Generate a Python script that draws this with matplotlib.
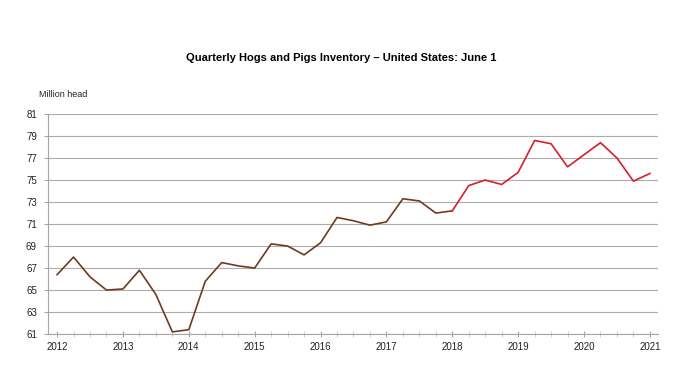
import numpy as np
import matplotlib
matplotlib.use('Agg')
import matplotlib.pyplot as plt
from matplotlib.ticker import MultipleLocator

plt.rcParams['font.family'] = ['Liberation Sans', 'DejaVu Sans']

# Inventario trimestral (milhoes de cabecas), 2012 a 2021
years = [2012, 2013, 2014, 2015, 2016, 2017, 2018, 2019, 2020, 2021]
inventory = [66.4, 68.0, 66.2, 65.0,
             65.1, 66.8, 64.6, 61.2,
             61.4, 65.8, 67.5, 67.2,
             67.0, 69.2, 69.0, 68.2,
             69.3, 71.6, 71.3, 70.9,
             71.2, 73.3, 73.1, 72.0,
             72.2, 74.5, 75.0, 74.6,
             75.7, 78.6, 78.3, 76.2,
             77.3, 78.4, 77.0, 74.9,
             75.6]
split = 24  # a partir daqui a linha fica vermelha

x = np.arange(len(inventory))

fig = plt.figure(figsize=(6.82, 3.84), dpi=100)
ax = fig.add_axes([0.0704, 0.130, 0.8946, 0.573])

ax.plot(x[:split + 1], inventory[:split + 1], color='#6e3b20', lw=1.2)
ax.plot(x[split:], inventory[split:], color='#d4202c', lw=1.2)

ax.set_ylim(61, 81)
ax.set_yticks(range(61, 82, 2))
ax.set_xlim(-0.55, 36.5)
ax.set_xticks(x[::4])
ax.set_xticklabels([str(y) for y in years])
ax.xaxis.set_minor_locator(MultipleLocator(1))

ax.grid(axis='y', color='#adadad', lw=0.8)
ax.set_axisbelow(True)
for s in ['top', 'right']:
    ax.spines[s].set_visible(False)
for s in ['left', 'bottom']:
    ax.spines[s].set_color('#a6a6a6')
    ax.spines[s].set_linewidth(0.8)

ax.tick_params(axis='y', length=3, color='#a6a6a6', labelsize=7, pad=5, labelcolor='#222222')
ax.tick_params(axis='x', which='major', length=4, direction='inout', color='#a6a6a6',
               labelsize=7, pad=4, labelcolor='#222222')
ax.tick_params(axis='x', which='minor', length=4, direction='inout', color='#c8c8c8')

fig.text(0.5, 0.849, 'Quarterly Hogs and Pigs Inventory \u2013 United States: June 1',
         ha='center', va='center', fontsize=8, fontweight='bold')
fig.text(0.057, 0.753, 'Million head', ha='left', va='center', fontsize=6.5, color='#222222')

fig.savefig('out.png', dpi=100)
